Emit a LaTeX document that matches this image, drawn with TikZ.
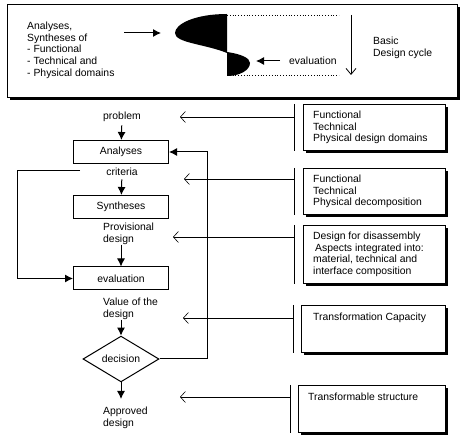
\documentclass[tikz,border=0pt]{standalone}
\usepackage{fontspec}
\setmainfont{Liberation Sans}
\usetikzlibrary{arrows.meta,shapes.geometric,shadows}

\tikzset{
  flow/.style={-{Latex[length=8pt,width=8pt]}, line width=1pt},
  feed/.style={{Straight Barb[length=5pt,width=11pt]}-, line width=0.6pt},
  stepbox/.style={draw, line width=1pt, minimum width=95, minimum height=23, inner sep=0pt},
  panel/.style={draw, fill=white, line width=0.7pt, anchor=north west, inner sep=0pt,
    general shadow={fill=black, shadow xshift=2.5pt, shadow yshift=-2.5pt}},
  lbl/.style={anchor=north west, align=left, inner sep=0pt}
}

\begin{document}
\begin{tikzpicture}[x=1pt, y=-1pt, font=\fontsize{10.4}{11.6}\selectfont]
\useasboundingbox (0,0) rectangle (474,435);

% basic design cycle
\node[panel, minimum width=450, minimum height=93] (cycle) at (7,4) {};
\node[lbl] (scope) at (27,22) {Analyses,\\Syntheses of\\- Functional\\- Technical and\\- Physical domains};
\coordinate (scopeout) at (124,33);
\coordinate (bulge) at (161,33);
\draw[flow] (scopeout) -- (bulge);

\fill (227,14) .. controls (195,14) and (175,24) .. (175,33) .. controls (175,43) and (205,44) .. (227,53) -- cycle;
\fill (227,52) .. controls (241,54) and (250,58) .. (250,63) .. controls (250,70) and (240,76) .. (227,76) -- cycle;
\draw[dotted, line width=0.8pt] (227,15) -- (339,15);
\draw[dotted, line width=0.8pt] (227,75) -- (339,75);

\node[anchor=west, inner sep=0pt] (evaltop) at (289,61) {evaluation};
\coordinate (evaltip) at (256,61);
\draw[flow] ([xshift=-9pt]evaltop.west) -- (evaltip);
\coordinate (cycletop) at (351,15);
\coordinate (cyclebot) at (351,75);
\draw[-{Straight Barb[length=6pt,width=10pt]}, line width=0.8pt] (cycletop) -- (cyclebot);
\node[lbl] (basic) at (373,37) {Basic\\Design cycle};

% flow chart
\node[anchor=center, align=center] (problem) at (122,117) {problem};
\node[stepbox] (analyses) at (121,152) {Analyses};
\node[anchor=center, align=center] (criteria) at (122,172) {criteria};
\node[stepbox] (syntheses) at (121,207) {Syntheses};
\node[lbl] (provisional) at (103,223) {Provisional\\design};
\node[stepbox] (evaluation) at (121,278.5) {evaluation};
\node[lbl] (value) at (103,298) {Value of the\\design};
\node[draw, diamond, line width=1pt, minimum width=76, minimum height=36, inner sep=0pt] (decision) at (121,359) {decision};
\node[lbl] (approved) at (103,407) {Approved\\design};

\draw[flow] (problem) -- (analyses);
\draw[flow] (criteria) -- (syntheses);
\draw[flow] (provisional.south -| syntheses) -- (evaluation);
\draw[flow] (value.south -| evaluation) -- (decision);
\draw[flow] (decision) -- ([yshift=8pt]approved.north -| decision);

\coordinate (critleft) at (80,171);
\draw[flow] (critleft) -- (17,171) |- (evaluation.west);
\draw[flow] (decision.east) -- (207,359) |- (analyses.east);

% aspects on the right
\node[panel, minimum width=142, minimum height=46] (domains) at (303,104) {};
\node[lbl] at ([xshift=10pt,yshift=-7pt]domains.north west) {Functional\\Technical\\Physical design domains};
\node[panel, minimum width=142, minimum height=46] (decomp) at (303,168) {};
\node[lbl] at ([xshift=10pt,yshift=-7pt]decomp.north west) {Functional\\Technical\\Physical decomposition};
\node[panel, minimum width=142, minimum height=58] (disassembly) at (303,225) {};
\node[lbl] at ([xshift=10pt,yshift=-7pt]disassembly.north west) {Design for disassembly\\\hspace{2pt}Aspects integrated into:\\material, technical and\\interface composition};
\node[panel, minimum width=144, minimum height=47] (capacity) at (301,305) {};
\node[lbl] at ([xshift=12pt,yshift=-8pt]capacity.north west) {Transformation Capacity};
\node[panel, minimum width=147, minimum height=47] (structure) at (298,385) {};
\node[lbl] at ([xshift=10pt,yshift=-8pt]structure.north west) {Transformable structure};

\draw[line width=0.8pt] ([xshift=-9pt]domains.north west) -- ([xshift=-9pt]domains.south west);
\draw[line width=0.8pt] ([xshift=-9pt]decomp.north west) -- ([xshift=-9pt]decomp.south west);
\draw[line width=0.8pt] ([xshift=-9pt]disassembly.north west) -- ([xshift=-9pt]disassembly.south west);
\draw[line width=0.8pt] ([xshift=-8pt]capacity.north west) -- ([xshift=-8pt]capacity.south west);
\draw[line width=0.8pt] ([xshift=-8pt]structure.north west) -- ([xshift=-8pt]structure.south west);

\coordinate (domtip) at (180,117);
\coordinate (dectip) at (184,179);
\coordinate (distip) at (173,237);
\coordinate (captip) at (183,318);
\coordinate (strtip) at (180,397);
\draw[feed] (domtip) -- ([xshift=-9pt]domtip -| domains.west);
\draw[feed] (dectip) -- ([xshift=-9pt]dectip -| decomp.west);
\draw[feed] (distip) -- ([xshift=-9pt]distip -| disassembly.west);
\draw[feed] (captip) -- ([xshift=-8pt]captip -| capacity.west);
\draw[feed] (strtip) -- ([xshift=-8pt]strtip -| structure.west);

\end{tikzpicture}
\end{document}
